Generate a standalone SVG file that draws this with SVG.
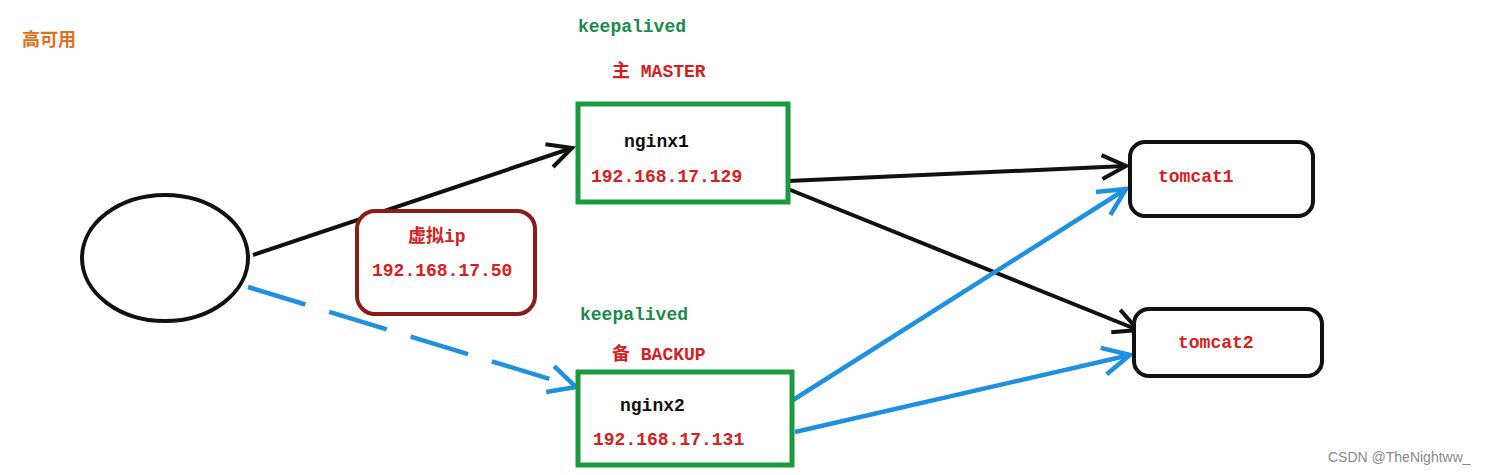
<svg xmlns="http://www.w3.org/2000/svg" width="1500" height="475" viewBox="0 0 1500 475">
<style>
.t{font-family:"Liberation Mono","Noto Sans CJK SC",monospace;font-weight:bold;font-size:18px}
.r{fill:#d42020}.g{fill:#1a8a4a}.k{fill:#111}
.bl{stroke:#111;stroke-width:4;fill:none}
.bu{stroke:#1e90e0;stroke-width:4.5;fill:none}
.nx{fill:#fff;stroke:#1a9a3c;stroke-width:5}
.tc{fill:#fff;stroke:#111;stroke-width:4}
</style>
<defs>
<marker id="ak" markerWidth="8" markerHeight="8" refX="7" refY="4" orient="auto" markerUnits="strokeWidth"><polyline points="1,1 7,4 1,7" fill="none" stroke="#111" stroke-width="1"/></marker>
<marker id="ab" markerWidth="8" markerHeight="8" refX="7" refY="4" orient="auto" markerUnits="strokeWidth"><polyline points="1,1 7,4 1,7" fill="none" stroke="#1e90e0" stroke-width="1"/></marker>
</defs>
<rect width="1500" height="475" fill="#fff"/>
<text x="22" y="46" class="t" style="fill:#e07020">高可用</text>
<g id="connectors">
<line x1="253" y1="255" x2="572" y2="148" class="bl" marker-end="url(#ak)"/>
<line x1="788" y1="181" x2="1126" y2="166" class="bl" marker-end="url(#ak)"/>
<line x1="788" y1="189" x2="1138" y2="330" class="bl" marker-end="url(#ak)"/>
<line x1="248" y1="287" x2="576" y2="387" class="bu" stroke-dasharray="60,25" marker-end="url(#ab)"/>
<line x1="793" y1="400" x2="1126" y2="189" class="bu" marker-end="url(#ab)"/>
<line x1="795" y1="432" x2="1130" y2="355" class="bu" marker-end="url(#ab)"/>
</g>
<g id="client"><ellipse cx="165" cy="258" rx="83" ry="63" fill="#fff" stroke="#111" stroke-width="4"/></g>
<g id="vip">
<rect x="357" y="211" width="178" height="103" rx="18" fill="#fff" stroke="#8b1a1a" stroke-width="4"/>
<text x="408" y="242" class="t r">虚拟ip</text>
<text x="372" y="276" class="t r">192.168.17.50</text>
</g>
<g id="nginx1">
<text x="578" y="32" class="t g">keepalived</text>
<text x="612" y="77" class="t r">主 MASTER</text>
<rect x="578" y="104" width="210" height="98" class="nx"/>
<text x="624" y="147" class="t k">nginx1</text>
<text x="591" y="182" class="t r">192.168.17.129</text>
</g>
<g id="nginx2">
<text x="580" y="320" class="t g">keepalived</text>
<text x="612" y="360" class="t r">备 BACKUP</text>
<rect x="578" y="372" width="214" height="93" class="nx"/>
<text x="620" y="411" class="t k">nginx2</text>
<text x="593" y="445" class="t r">192.168.17.131</text>
</g>
<g id="tomcat1">
<rect x="1130" y="142" width="183" height="74" rx="15" class="tc"/>
<text x="1158" y="182" class="t r">tomcat1</text>
</g>
<g id="tomcat2">
<rect x="1134" y="309" width="188" height="67" rx="15" class="tc"/>
<text x="1178" y="348" class="t r">tomcat2</text>
</g>
<text x="1328" y="462" style="font-family:'Liberation Sans',sans-serif;font-size:14px;fill:#888">CSDN @TheNightww_</text>
</svg>
